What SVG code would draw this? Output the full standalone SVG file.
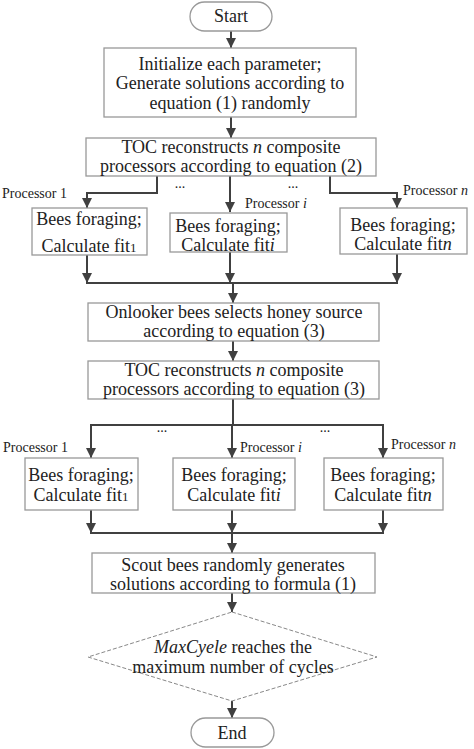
<svg xmlns="http://www.w3.org/2000/svg" width="474" height="749" viewBox="0 0 474 749">
<defs>
<marker id="ah" markerWidth="10" markerHeight="10" viewBox="0 0 10 10" refX="10" refY="5" orient="auto" markerUnits="userSpaceOnUse">
<path d="M0,0 L10,5 L0,10 Z" fill="#404040"/>
</marker>
</defs>
<style>
.box{fill:#fff;stroke:#999;stroke-width:1.3}
.dia{fill:#fff;stroke:#888;stroke-width:1;stroke-dasharray:4 2}
.t{font-family:"Liberation Serif","Times New Roman",serif;font-size:18px;fill:#222;text-anchor:middle}
.s{font-family:"Liberation Serif","Times New Roman",serif;font-size:14px;fill:#222}
.c{fill:none;stroke:#404040;stroke-width:2}
.ca{fill:none;stroke:#404040;stroke-width:2;marker-end:url(#ah)}
</style>
<rect width="474" height="749" fill="#fff"/>
<g id="connectors">
<line class="ca" x1="231" y1="31" x2="231" y2="48"/>
<line class="ca" x1="231" y1="117" x2="231" y2="138"/>
<polyline class="ca" points="157,176 157,193 87,193 87,208"/>
<line class="ca" x1="230" y1="176" x2="230" y2="212"/>
<polyline class="ca" points="330,176 330,193 397,193 397,208"/>
<line class="ca" x1="87" y1="255" x2="87" y2="283"/>
<line class="ca" x1="230" y1="252" x2="230" y2="283"/>
<line class="ca" x1="397" y1="254" x2="397" y2="283"/>
<line class="c" x1="86" y1="283" x2="398" y2="283"/>
<line class="ca" x1="233" y1="283" x2="233" y2="303"/>
<line class="ca" x1="233" y1="341" x2="233" y2="361"/>
<line class="c" x1="233" y1="399" x2="233" y2="425"/>
<line class="c" x1="90" y1="425" x2="384" y2="425"/>
<line class="ca" x1="91" y1="425" x2="91" y2="458"/>
<line class="ca" x1="232" y1="425" x2="232" y2="458"/>
<line class="ca" x1="383" y1="425" x2="383" y2="458"/>
<line class="ca" x1="91" y1="510" x2="91" y2="533"/>
<line class="ca" x1="232" y1="510" x2="232" y2="533"/>
<line class="ca" x1="383" y1="510" x2="383" y2="533"/>
<line class="c" x1="90" y1="533" x2="384" y2="533"/>
<line class="ca" x1="232" y1="533" x2="232" y2="553"/>
<line class="ca" x1="232" y1="593" x2="232" y2="612"/>
<line class="ca" x1="232" y1="701" x2="232" y2="718"/>
</g>
<g id="labels">
<text class="s" x="2" y="198">Processor 1</text>
<text class="s" x="180" y="188" text-anchor="middle">...</text>
<text class="s" x="293" y="188" text-anchor="middle">...</text>
<text class="s" x="245" y="208">Processor <tspan font-style="italic">i</tspan></text>
<text class="s" x="403" y="195">Processor <tspan font-style="italic">n</tspan></text>
<text class="s" x="3" y="452">Processor 1</text>
<text class="s" x="162" y="432" text-anchor="middle">...</text>
<text class="s" x="325" y="432" text-anchor="middle">...</text>
<text class="s" x="240" y="452">Processor <tspan font-style="italic">i</tspan></text>
<text class="s" x="391" y="449">Processor <tspan font-style="italic">n</tspan></text>
</g>
<g id="start">
<rect class="box" x="190" y="2" width="82" height="29" rx="14.5"/>
<text class="t" x="231" y="22">Start</text>
</g>
<g id="init">
<rect class="box" x="104" y="48" width="252" height="69"/>
<text class="t" x="230" y="70">Initialize each parameter;</text>
<text class="t" x="230" y="89">Generate solutions according to</text>
<text class="t" x="230" y="109">equation (1) randomly</text>
</g>
<g id="toc1">
<rect class="box" x="86" y="138" width="290" height="38"/>
<text class="t" x="231" y="153">TOC reconstructs <tspan font-style="italic">n</tspan> composite</text>
<text class="t" x="231" y="172">processors according to equation (2)</text>
</g>
<g id="bees1a">
<rect class="box" x="32" y="208" width="115" height="47"/>
<text class="t" x="89" y="225">Bees foraging;</text>
<text class="t" x="89" y="252">Calculate fit<tspan font-size="13">1</tspan></text>
</g>
<g id="bees1b">
<rect class="box" x="170" y="213" width="117" height="39"/>
<text class="t" x="228" y="232">Bees foraging;</text>
<text class="t" x="228" y="251">Calculate fit<tspan font-style="italic">i</tspan></text>
</g>
<g id="bees1c">
<rect class="box" x="340" y="208" width="127" height="46"/>
<text class="t" x="403" y="231">Bees foraging;</text>
<text class="t" x="403" y="250">Calculate fit<tspan font-style="italic">n</tspan></text>
</g>
<g id="onlooker">
<rect class="box" x="88" y="303" width="291" height="38"/>
<text class="t" x="234" y="318">Onlooker bees selects honey source</text>
<text class="t" x="234" y="337">according to equation  (3)</text>
</g>
<g id="toc2">
<rect class="box" x="88" y="361" width="291" height="38"/>
<text class="t" x="234" y="376">TOC reconstructs <tspan font-style="italic">n</tspan> composite</text>
<text class="t" x="234" y="395">processors according to equation (3)</text>
</g>
<g id="bees2a">
<rect class="box" x="25" y="458" width="113" height="52"/>
<text class="t" x="81" y="481">Bees foraging;</text>
<text class="t" x="81" y="501">Calculate fit<tspan font-size="13">1</tspan></text>
</g>
<g id="bees2b">
<rect class="box" x="173" y="458" width="122" height="52"/>
<text class="t" x="234" y="481">Bees foraging;</text>
<text class="t" x="234" y="501">Calculate fit<tspan font-style="italic">i</tspan></text>
</g>
<g id="bees2c">
<rect class="box" x="324" y="458" width="119" height="52"/>
<text class="t" x="383" y="481">Bees foraging;</text>
<text class="t" x="383" y="501">Calculate fit<tspan font-style="italic">n</tspan></text>
</g>
<g id="scout">
<rect class="box" x="92" y="553" width="283" height="40"/>
<text class="t" x="233" y="571">Scout bees randomly generates</text>
<text class="t" x="233" y="590">solutions according to formula (1)</text>
</g>
<g id="decision">
<polygon class="dia" points="232,612 377,657 232,701 88,657"/>
<text class="t" x="233" y="653"><tspan font-style="italic">MaxCyele</tspan> reaches the</text>
<text class="t" x="233" y="673">maximum number of cycles</text>
</g>
<g id="end">
<rect class="box" x="191" y="718" width="83" height="29" rx="14.5"/>
<text class="t" x="232" y="739">End</text>
</g>
</svg>
